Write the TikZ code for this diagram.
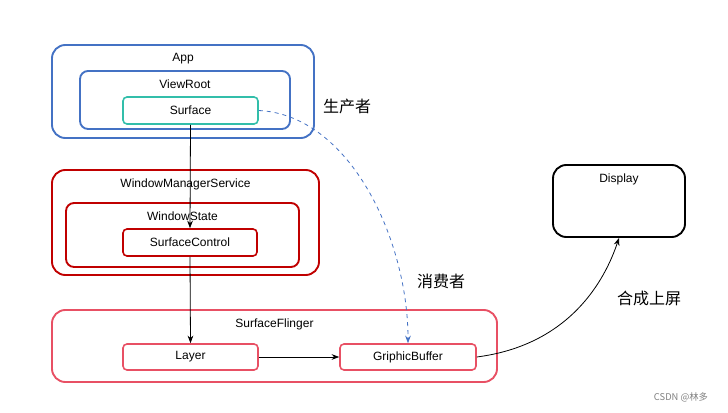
\documentclass[tikz,border=0pt]{standalone}
\usepackage{fontspec}
\setmainfont{Liberation Sans}
\newfontfamily\cjk{Noto Sans CJK SC}
\usetikzlibrary{arrows.meta, positioning}
\definecolor{appblue}{RGB}{68,114,196}
\definecolor{wmsred}{RGB}{192,0,0}
\definecolor{sfred}{RGB}{232,80,100}
\definecolor{surfteal}{RGB}{50,190,170}
\begin{document}
\begin{tikzpicture}[
	x=0.75pt, y=-0.75pt,
	every node/.style={font=\small},
	box/.style={rectangle, rounded corners=3pt, draw, line width=1.2pt, inner sep=0pt},
	frame/.style={rectangle, rounded corners=10pt, draw, line width=1.4pt, inner sep=0pt},
	title/.style={label={[anchor=north, inner sep=0pt, yshift=-7pt, font=\small]north:#1}},
	arrow/.style={->, >=Stealth, semithick},
	note/.style={font=\cjk\large}
	]
	\useasboundingbox (0,0) rectangle (728,413);

	% App
	\node[frame, draw=appblue, minimum width=262*0.75pt, minimum height=93*0.75pt, title=App] (app) at (183,91.5) {};
	\node[frame, rounded corners=6pt, draw=appblue, minimum width=210*0.75pt, minimum height=58*0.75pt, title=ViewRoot] (viewroot) at (185,100) {};
	\node[box, draw=surfteal, minimum width=135*0.75pt, minimum height=27*0.75pt] (surface) at (190.5,110.5) {Surface};

	% WindowManagerService
	\node[frame, draw=wmsred, minimum width=267*0.75pt, minimum height=105*0.75pt, title=WindowManagerService] (wms) at (185.5,222.5) {};
	\node[frame, rounded corners=6pt, draw=wmsred, minimum width=233*0.75pt, minimum height=64*0.75pt, title=WindowState] (winstate) at (182.5,235) {};
	\node[box, draw=wmsred, minimum width=134*0.75pt, minimum height=27*0.75pt] (surfctl) at (190,242.5) {SurfaceControl};

	% SurfaceFlinger
	\node[frame, draw=sfred, minimum width=445*0.75pt, minimum height=72*0.75pt, title=SurfaceFlinger] (flinger) at (274.5,346) {};
	\node[box, draw=sfred, minimum width=135*0.75pt, minimum height=26*0.75pt] (layer) at (190.5,357) {Layer};
	\node[box, draw=sfred, minimum width=136*0.75pt, minimum height=26*0.75pt] (buffer) at (408,357) {GriphicBuffer};

	% Display
	\node[frame, draw=black, minimum width=132*0.75pt, minimum height=72*0.75pt, title=Display] (display) at (619,201) {};

	% Arrows
	\draw[arrow] (surface.south) -- (surfctl.north);
	\draw[arrow] (surfctl.south) -- (layer.north);
	\draw[arrow] (layer.east) -- (buffer.west);
	\draw[arrow, dashed, draw=appblue] (surface.east) .. controls (350,115) and (408,240) .. (buffer.north);
	\draw[arrow] (buffer.east) .. controls (570,345) and (605,280) .. (display.south);

	% Labels
	\node[note] (producer) at (347,106) {生产者};
	\node[note] (consumer) at (441,281) {消费者};
	\node[note] (compose) at (649,298) {合成上屏};
	\node[font=\cjk\scriptsize, text=gray] (mark) at (681,397) {CSDN @林多};
\end{tikzpicture}
\end{document}
